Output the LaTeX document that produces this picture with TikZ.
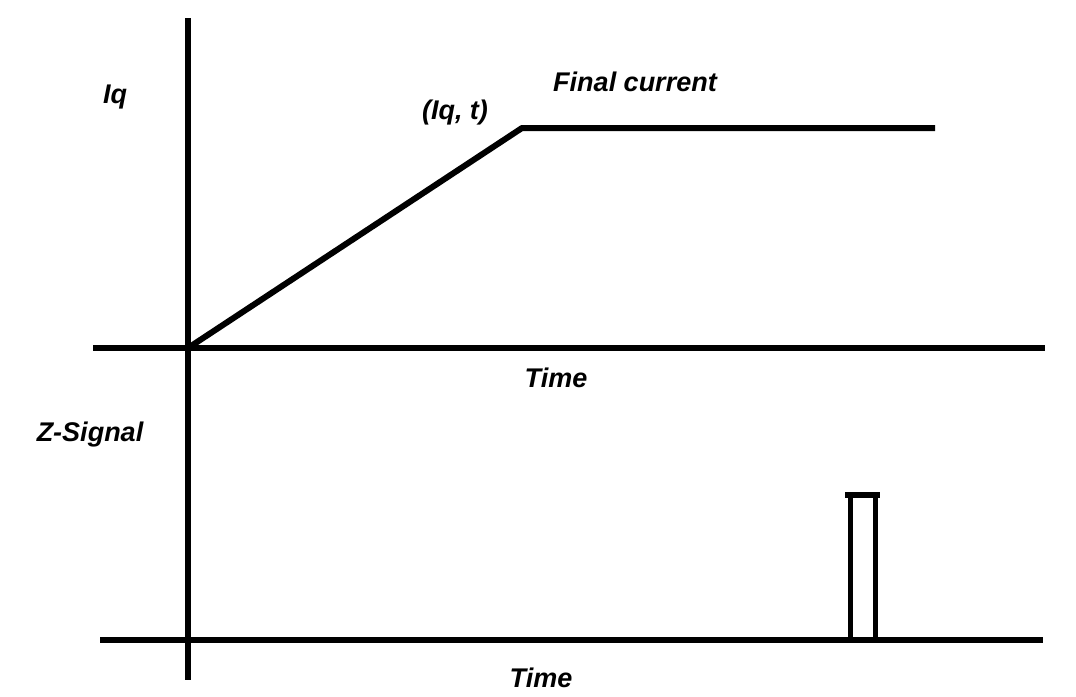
\documentclass[tikz,border=0pt]{standalone}
\usepackage{fontspec}
\setmainfont{Liberation Sans}
\begin{document}
\begin{tikzpicture}[x=1pt,y=-1pt,
  ax/.style={line width=6pt},
  lbl/.style={font=\fontsize{27}{30}\selectfont\bfseries\itshape,inner sep=0pt}]
\useasboundingbox (0,0) rectangle (1076,696);
\coordinate (vt) at (188,18); \coordinate (vb) at (188,680);
\draw[ax] (vt) -- (vb);
\coordinate (h1l) at (93,348); \coordinate (h1r) at (1045,348);
\draw[ax] (h1l) -- (h1r);
\coordinate (o) at (188,348); \coordinate (k) at (522,128); \coordinate (e) at (935,128);
\draw[ax,line join=round] (o) -- (k) -- (e);
\coordinate (h2l) at (100,640); \coordinate (h2r) at (1043,640);
\draw[ax] (h2l) -- (h2r);
\coordinate (p1) at (850,640); \coordinate (p2) at (850,495); \coordinate (p3) at (875,495); \coordinate (p4) at (875,640);
\draw[line width=5pt] (p1) -- (p2) -- (p3) -- (p4);
\coordinate (c1) at (845,495); \coordinate (c2) at (880,495);
\draw[ax] (c1) -- (c2);
\node[lbl] (iq) at (115,97) {Iq};
\node[lbl] (iqt) at (455,113) {(Iq, t)};
\node[lbl] (fc) at (635,82) {Final current};
\node[lbl] (t1) at (556,378) {Time};
\node[lbl] (zs) at (90,435) {Z-Signal};
\node[lbl] (t2) at (541,678) {Time};
\end{tikzpicture}
\end{document}
